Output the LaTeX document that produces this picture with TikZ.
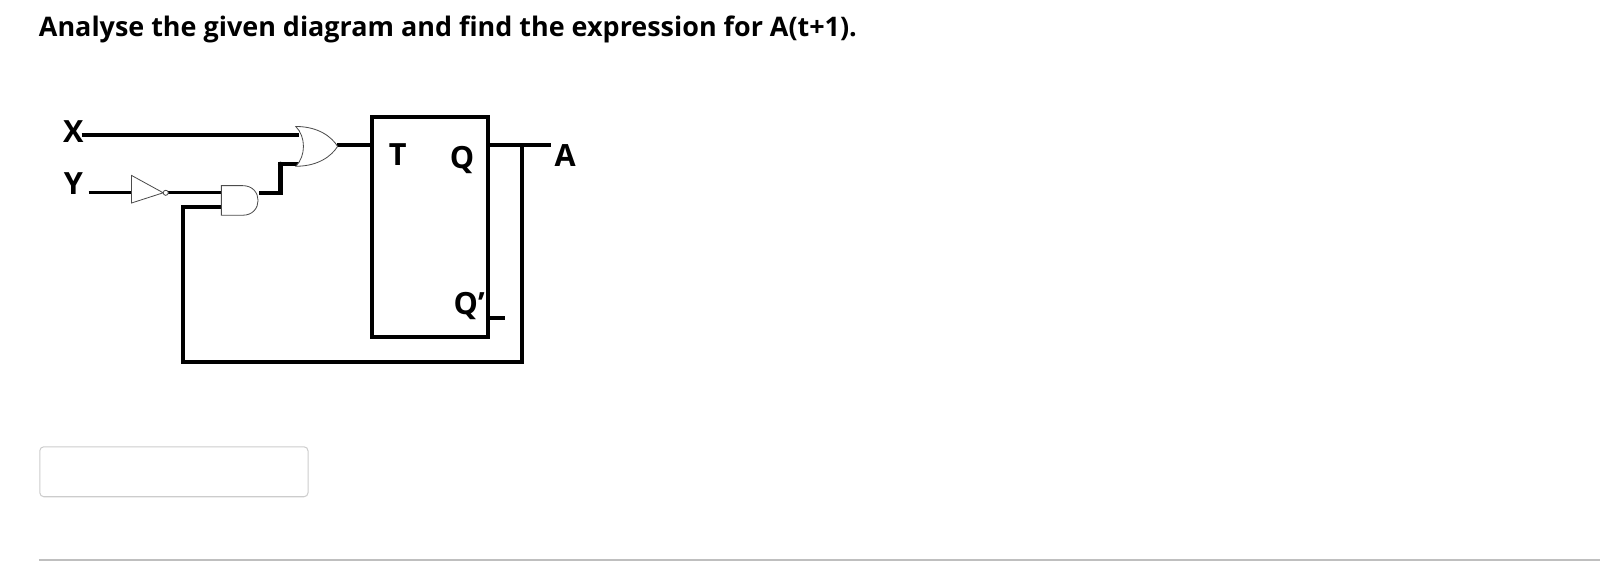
\documentclass[tikz,border=0pt]{standalone}
\usepackage{fontspec}
\setmainfont{Open Sans}
\begin{document}
\begin{tikzpicture}[x=1pt,y=-1pt,
  wire/.style={line width=4pt},
  gate/.style={draw=black!70,line width=0.8pt,fill=white},
  lbl/.style={font=\fontsize{30}{30}\selectfont\bfseries,inner sep=0pt}]
\useasboundingbox (0,0) rectangle (1568.6,557.8);
\node[anchor=west,inner sep=0pt,font=\fontsize{26.4}{30}\selectfont\bfseries] (title) at (38,29) {Analyse the given diagram and find the expression for A(t+1).};
% labels
\node[lbl] (X) at (72,129) {X};
\node[lbl] (Y) at (72,180) {Y};
\node[lbl] (A) at (554,152) {A};
\node[lbl] (T) at (390,152) {T};
\node[lbl] (Q) at (453,157) {Q};
\node[lbl] (Qb) at (460,300) {Q'};
% coordinates
\coordinate (xs) at (80,132);
\coordinate (ys) at (87,189);
\coordinate (orin1) at (293,132);
\coordinate (orin2) at (293,161);
\coordinate (orout) at (330,142);
\coordinate (andin1) at (217,189);
\coordinate (andin2) at (217,203);
\coordinate (andout) at (254,189);
\coordinate (tin) at (365,142);
\coordinate (qout) at (478,142);
\coordinate (aend) at (540,142);
\coordinate (fb) at (512,142);
% box
\draw[line width=4pt] (365,115) rectangle (478,330);
% wires
\draw[wire] (xs) -- (orin1);
\draw[wire] (andout) -- (275,189) -- (275,161) -- (orin2);
\draw[wire] (orout) -- (tin);
\draw[wire] (qout) -- (aend);
\draw[wire] (fb) -- (512,355) -- (179,355) -- (179,203) -- (andin2);
\draw[wire] (478,312) -- (495,312);
\draw[line width=3pt] (ys) -- (129,189);
\draw[line width=3pt] (164,189) -- (andin1);
\fill (275,161) circle (2.5);
% OR gate
\draw[gate] (290,124) .. controls (300,134) and (300,153) .. (290,163)
  .. controls (312,163) and (325,153) .. (331,143.5)
  .. controls (325,134) and (312,124) .. (290,124) -- cycle;
% AND gate
\draw[gate] (217,182) -- (238,182) .. controls (258,182) and (258,211) .. (238,211) -- (217,211) -- cycle;
% NOT gate
\draw[gate] (129,172) -- (160,189) -- (129,199) -- cycle;
\draw[gate] (162.5,189) circle (2.5);
% answer box and rule
\draw[black!20,line width=1pt,rounded corners=4pt] (39,438) rectangle (302,487);
\draw[black!25,line width=1pt] (38,549) -- (1568.6,549);
\end{tikzpicture}
\end{document}
